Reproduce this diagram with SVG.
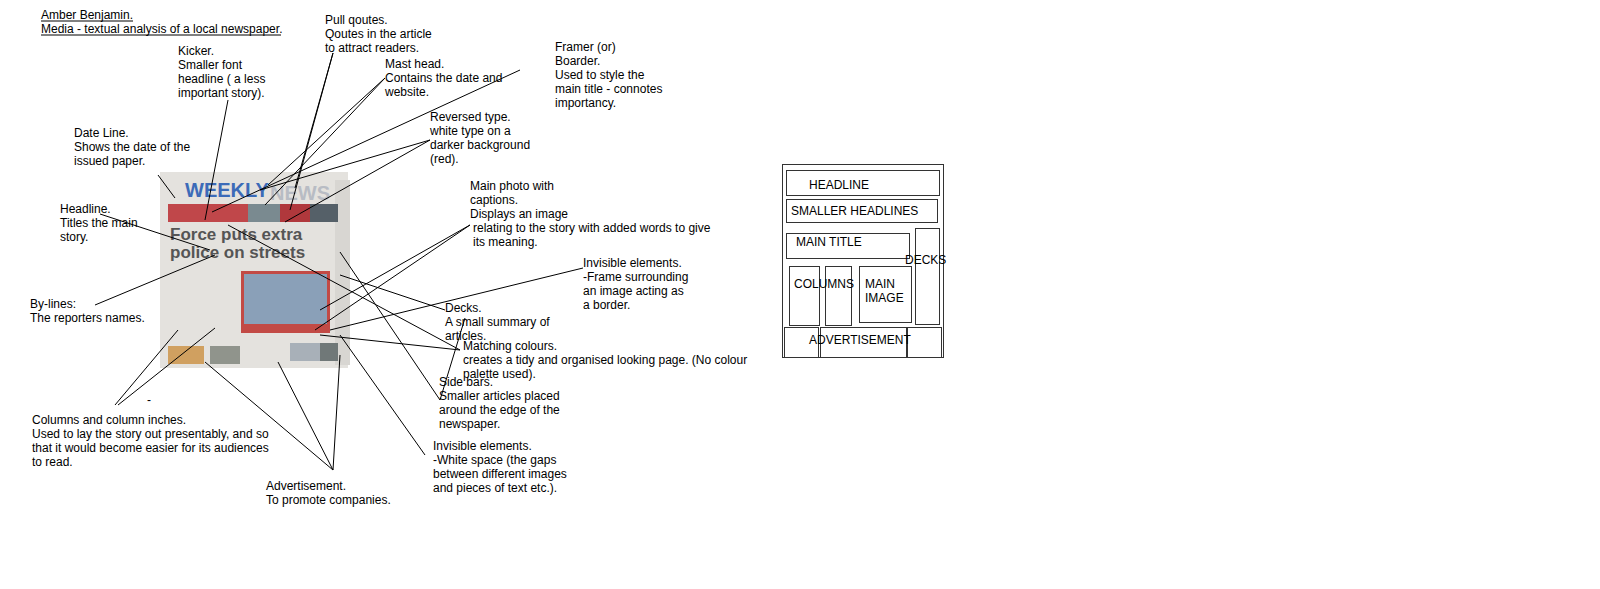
<svg xmlns="http://www.w3.org/2000/svg" width="1600" height="589" viewBox="0 0 1600 589">
<style>
text{font-family:"Liberation Sans",Arial,sans-serif;font-size:12px;fill:#000}
.b{fill:none;stroke:#333;stroke-width:1}
.c line{stroke:#000;stroke-width:1}
</style>
<rect width="1600" height="589" fill="#fff"/>
<g id="title"><text x="41" y="19">Amber Benjamin.</text><text x="41" y="33">Media - textual analysis of a local newspaper.</text>
<line x1="41" y1="21" x2="133" y2="21" stroke="#000"/><line x1="41" y1="35" x2="281" y2="35" stroke="#000"/></g>
<g id="newspaper">
<rect x="160" y="172" width="188" height="196" fill="#e4e2de"/>
<rect x="335" y="180" width="15" height="185" fill="#d8d6d2"/>
<text x="185" y="197" style="font-size:20px;font-weight:bold;fill:#3c6bb8">WEEKLY</text>
<text x="270" y="200" style="font-size:20px;font-weight:bold;fill:#b8bcc4">NEWS</text>
<rect x="168" y="204" width="80" height="18" fill="#c0474a"/>
<rect x="248" y="204" width="32" height="18" fill="#7a8a90"/>
<rect x="280" y="204" width="30" height="18" fill="#b0383c"/>
<rect x="310" y="204" width="28" height="18" fill="#556068"/>
<text x="170" y="240" style="font-size:17px;font-weight:bold;fill:#555">Force puts extra</text>
<text x="170" y="258" style="font-size:17px;font-weight:bold;fill:#555">police on streets</text>
<rect x="241" y="271" width="89" height="62" fill="#c24a45"/>
<rect x="244" y="274" width="83" height="50" fill="#8aa0b8"/>
<rect x="168" y="346" width="36" height="18" fill="#d0a060"/>
<rect x="210" y="346" width="30" height="18" fill="#90948c"/>
<rect x="290" y="343" width="30" height="18" fill="#a8b0b8"/>
<rect x="320" y="343" width="18" height="18" fill="#707878"/>
</g>
<g class="c" id="connectors">
<line x1="158" y1="175" x2="175" y2="198"/>
<line x1="228" y1="100" x2="205" y2="220"/>
<line x1="333" y1="53" x2="295" y2="188"/>
<line x1="333" y1="53" x2="290" y2="210"/>
<line x1="385" y1="78" x2="268" y2="185"/>
<line x1="385" y1="78" x2="265" y2="205"/>
<line x1="520" y1="70" x2="212" y2="212"/>
<line x1="430" y1="140" x2="285" y2="222"/>
<line x1="430" y1="140" x2="260" y2="190"/>
<line x1="100" y1="214" x2="210" y2="250"/>
<line x1="95" y1="305" x2="215" y2="255"/>
<line x1="115" y1="405" x2="178" y2="330"/>
<line x1="118" y1="405" x2="215" y2="328"/>
<line x1="333" y1="470" x2="205" y2="362"/>
<line x1="333" y1="470" x2="278" y2="362"/>
<line x1="333" y1="470" x2="340" y2="355"/>
<line x1="425" y1="455" x2="340" y2="335"/>
<line x1="440" y1="400" x2="340" y2="252"/>
<line x1="440" y1="400" x2="465" y2="318"/>
<line x1="445" y1="310" x2="340" y2="275"/>
<line x1="470" y1="225" x2="320" y2="310"/>
<line x1="470" y1="225" x2="315" y2="330"/>
<line x1="583" y1="268" x2="330" y2="330"/>
<line x1="460" y1="350" x2="228" y2="225"/>
<line x1="460" y1="350" x2="320" y2="335"/>
</g>
<g id="labels">
<text x="178" y="55">Kicker.</text><text x="178" y="69">Smaller font</text><text x="178" y="83">headline ( a less</text><text x="178" y="97">important story).</text>
<text x="325" y="24">Pull qoutes.</text><text x="325" y="38">Qoutes in the article</text><text x="325" y="52">to attract readers.</text>
<text x="385" y="68">Mast head.</text><text x="385" y="82">Contains the date and</text><text x="385" y="96">website.</text>
<text x="555" y="51">Framer (or)</text><text x="555" y="65">Boarder.</text><text x="555" y="79">Used to style the</text><text x="555" y="93">main title - connotes</text><text x="555" y="107">importancy.</text>
<text x="430" y="121">Reversed type.</text><text x="430" y="135">white type on a</text><text x="430" y="149">darker background</text><text x="430" y="163">(red).</text>
<text x="74" y="137">Date Line.</text><text x="74" y="151">Shows the date of the</text><text x="74" y="165">issued paper.</text>
<text x="60" y="213">Headline.</text><text x="60" y="227">Titles the main</text><text x="60" y="241">story.</text>
<text x="30" y="308">By-lines:</text><text x="30" y="322">The reporters names.</text>
<text x="470" y="190">Main photo with</text><text x="470" y="204">captions.</text><text x="470" y="218">Displays an image</text><text x="473" y="232">relating to the story with added words to give</text><text x="473" y="246">its meaning.</text>
<text x="583" y="267">Invisible elements.</text><text x="583" y="281">-Frame surrounding</text><text x="583" y="295">an image acting as</text><text x="583" y="309">a border.</text>
<text x="445" y="312">Decks.</text><text x="445" y="326">A small summary of</text><text x="445" y="340">articles.</text>
<text x="463" y="350">Matching colours.</text><text x="463" y="364">creates a tidy and organised looking page. (No colour</text><text x="463" y="378">palette used).</text>
<text x="439" y="386">Side bars.</text><text x="439" y="400">Smaller articles placed</text><text x="439" y="414">around the edge of the</text><text x="439" y="428">newspaper.</text>
<text x="433" y="450">Invisible elements.</text><text x="433" y="464">-White space (the gaps</text><text x="433" y="478">between different images</text><text x="433" y="492">and pieces of text etc.).</text>
<text x="147" y="404">-</text>
<text x="32" y="424">Columns and column inches.</text><text x="32" y="438">Used to lay the story out presentably, and so</text><text x="32" y="452">that it would become easier for its audiences</text><text x="32" y="466">to read.</text>
<text x="266" y="490">Advertisement.</text><text x="266" y="504">To promote companies.</text>
</g>
<g id="layout">
<rect class="b" x="782.5" y="164.5" width="161" height="193"/>
<g id="headline"><rect class="b" x="786.5" y="170.5" width="153" height="25"/><text x="809" y="189">HEADLINE</text></g>
<g id="smaller"><rect class="b" x="786.5" y="199.5" width="151" height="23"/><text x="791" y="215">SMALLER HEADLINES</text></g>
<g id="maintitle"><rect class="b" x="786.5" y="233.5" width="123" height="25"/><text x="796" y="246">MAIN TITLE</text></g>
<g id="decks"><rect class="b" x="915.5" y="228.5" width="24" height="96"/><text x="905" y="264">DECKS</text></g>
<g id="columns"><rect class="b" x="789.5" y="266.5" width="30" height="59"/><rect class="b" x="825.5" y="266.5" width="26" height="59"/><text x="794" y="288">COLUMNS</text></g>
<g id="mainimage"><rect class="b" x="859.5" y="266.5" width="52" height="56"/><text x="865" y="288">MAIN</text><text x="865" y="302">IMAGE</text></g>
<g id="advert"><rect class="b" x="784.5" y="327.5" width="34" height="30"/><rect class="b" x="820.5" y="327.5" width="86" height="30"/><rect class="b" x="907.5" y="327.5" width="34" height="30"/><text x="809" y="344">ADVERTISEMENT</text></g>
</g>
</svg>
